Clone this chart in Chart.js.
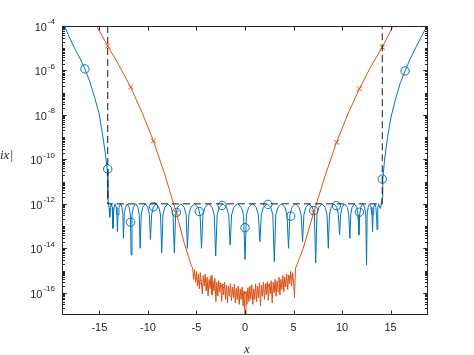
<!DOCTYPE html>
<html><head><meta charset="utf-8">
<script src="https://cdn.jsdelivr.net/npm/chart.js@4"></script>
<style>html,body{margin:0;padding:0;background:#fff;}#wrap{width:474px;height:355px;position:relative;}</style>
</head><body><div id="wrap"><canvas id="c" width="474" height="355"></canvas></div>
<script>
// ---- tick labels ----
const xTicks = [-15, -10, -5, 0, 5, 10, 15];
const xTickLabels = ['-15', '-10', '-5', '0', '5', '10', '15'];
const yTicks = [1e-16, 1e-14, 1e-12, 1e-10, 1e-8, 1e-6, 1e-4];
const yTickExps = ['-16', '-14', '-12', '-10', '-8', '-6', '-4'];
const xLabel = 'x';
const yLabelVisible = 'ix';

// ---- blue series (error curve) ----
const blueX = [-18.6,-18.2,-17.6,-17.0,-16.49,-16.0,-15.5,-15.04,-14.7,-14.4,-14.19,-14.12,-14.05,-13.99,
-13.93,-13.86,-13.77,-13.68,-13.6,-13.55,-13.48,-13.37,-13.26,-13.19,-13.14,-13.08,-12.98,-12.83,-12.68,-12.58,
-12.52,-12.44,-12.32,-12.125,-11.93,-11.81,-11.73,-11.64,-11.5,-11.265,-11.03,-10.89,-10.8,-10.69,-10.535,-10.27,-10.005,-9.85,
-9.74,-9.62,-9.45,-9.16,-8.87,-8.7,-8.58,-8.45,-8.255,-7.93,-7.605,-7.41,-7.28,-7.145,-6.94,-6.605,-6.27,-6.065,
-5.93,-5.785,-5.57,-5.205,-4.84,-4.625,-4.48,-4.33,-4.115,-3.75,-3.385,-3.17,-3.02,-2.87,-2.65,-2.275,-1.9,-1.68,
-1.53,-1.38,-1.15,-0.765,-0.38,-0.15,0,0.15,0.38,0.765,1.15,1.38,1.53,1.68,1.9,2.275,2.65,2.87,
3.02,3.17,3.385,3.75,4.115,4.33,4.48,4.625,4.84,5.205,5.57,5.785,5.93,6.065,6.27,6.605,6.94,7.145,
7.28,7.41,7.605,7.93,8.255,8.45,8.58,8.7,8.87,9.16,9.45,9.62,9.74,9.85,10.005,10.27,10.535,10.69,
10.8,10.89,11.03,11.265,11.5,11.64,11.73,11.81,11.93,12.125,12.32,12.44,12.52,12.58,12.68,12.83,12.98,13.08,
13.14,13.19,13.26,13.37,13.48,13.55,13.6,13.68,13.77,13.86,13.93,13.99,14.05,14.12,
14.19,14.4,14.7,15.04,15.5,16.0,16.49,17.0,17.6,18.2,18.75];
const blueY = [1e-4,4e-5,1.1e-5,3.5e-6,1.17e-6,3.2e-7,6.3e-8,1.2e-8,1.6e-9,2e-10,3.7e-11,1.6e-12,1.05e-12,6e-13,
2.5e-13,7e-13,1e-12,7e-13,7.9e-14,3.2e-13,7e-13,1e-12,7e-13,3.2e-13,5.6e-14,3.2e-13,7e-13,1e-12,7e-13,3.2e-13,
2.8e-14,3.2e-13,7e-13,1e-12,7e-13,3.2e-13,5e-15,3.2e-13,7e-13,1e-12,7e-13,3.2e-13,1e-14,3.2e-13,7e-13,1e-12,7e-13,3.2e-13,
2.5e-14,3.2e-13,7e-13,1e-12,7e-13,3.2e-13,6.3e-15,3.2e-13,7e-13,1e-12,7e-13,3.2e-13,6.3e-15,3.2e-13,7e-13,1e-12,7e-13,3.2e-13,
1e-14,3.2e-13,7e-13,1e-12,7e-13,3.2e-13,1e-14,3.2e-13,7e-13,1e-12,7e-13,3.2e-13,4.5e-15,3.2e-13,7e-13,1e-12,7e-13,3.2e-13,
1.4e-14,3.2e-13,7e-13,1e-12,7e-13,3.2e-13,3.2e-15,3.2e-13,7e-13,1e-12,7e-13,3.2e-13,2e-14,3.2e-13,7e-13,1e-12,7e-13,3.2e-13,
2.5e-15,3.2e-13,7e-13,1e-12,7e-13,3.2e-13,1e-14,3.2e-13,7e-13,1e-12,7e-13,3.2e-13,2e-14,3.2e-13,7e-13,1e-12,7e-13,3.2e-13,
2.2e-15,3.2e-13,7e-13,1e-12,7e-13,3.2e-13,1e-14,3.2e-13,7e-13,1e-12,7e-13,3.2e-13,4e-14,3.2e-13,7e-13,1e-12,7e-13,3.2e-13,
2.8e-14,3.2e-13,7e-13,1e-12,7e-13,3.2e-13,4e-14,3.2e-13,7e-13,1e-12,7e-13,3.2e-13,1.8e-15,3.2e-13,7e-13,1e-12,7e-13,3.2e-13,
5.6e-14,3.2e-13,7e-13,1e-12,7e-13,3.2e-13,7e-14,7e-13,1e-12,7e-13,6.3e-13,8e-13,1.05e-12,2e-12,
1.3e-11,1.2e-10,1.1e-9,8e-9,5e-8,2.8e-7,9.5e-7,3.2e-6,1.1e-5,3.5e-5,1e-4];

// blue circle markers
const blueMarkX = [-16.49,-14.14,-11.78,-9.42,-7.07,-4.71,-2.36,0,2.36,4.71,7.07,9.42,11.78,14.14,16.49];
const blueMarkY = [1.17e-6,3.7e-11,1.48e-13,7.4e-13,4.1e-13,4.5e-13,8.5e-13,8.5e-14,9.5e-13,2.8e-13,5e-13,8.3e-13,4.2e-13,1.3e-11,9.5e-7];

// ---- orange series ----
const orangeX = [-15.28,-14.14,-12.96,-11.78,-10.6,-9.43,-8.25,-7.07,-6.3,-5.5,
-5.4,-5.3,-5.2,-5.1,-5.0,-4.9,-4.8,-4.7,-4.6,-4.5,-4.4,-4.3,-4.2,-4.1,-4.0,-3.9,-3.8,-3.7,-3.6,-3.5,
-3.4,-3.3,-3.2,-3.1,-3.0,-2.9,-2.8,-2.7,-2.6,-2.5,-2.4,-2.3,-2.2,-2.1,-2.0,-1.9,-1.8,-1.7,-1.6,-1.5,
-1.4,-1.3,-1.2,-1.1,-1.0,-0.9,-0.8,-0.7,-0.6,-0.5,-0.4,-0.3,-0.2,-0.1,0.0,0.1,0.2,0.3,0.4,0.5,
0.6,0.7,0.8,0.9,1.0,1.1,1.2,1.3,1.4,1.5,1.6,1.7,1.8,1.9,2.0,2.1,2.2,2.3,2.4,2.5,
2.6,2.7,2.8,2.9,3.0,3.1,3.2,3.3,3.4,3.5,3.6,3.7,3.8,3.9,4.0,4.1,4.2,4.3,4.4,4.5,
4.6,4.7,4.8,4.9,5.0,5.1,5.2,
5.3,6.0,7.07,8.25,9.43,10.6,11.78,12.96,14.14,15.25];
const orangeY = [1e-4,1.26e-5,1.66e-6,1.8e-7,1.26e-8,6.8e-10,2e-11,3.9e-13,2e-14,1.5e-15,
1.4e-15,4e-16,1.1e-15,3e-16,9e-16,2e-16,7e-16,1.5e-16,8e-16,3e-16,9e-17,6e-16,2e-16,7e-16,1.2e-16,5e-16,7e-17,4e-16,1.5e-16,6e-16,
8e-17,3.5e-16,1.2e-16,4.5e-16,4e-17,3e-16,7e-17,3.5e-16,1.1e-16,2.8e-16,4e-17,2.5e-16,8e-17,3e-16,5e-17,2.2e-16,3.5e-17,2e-16,7e-17,2.6e-16,
4.5e-17,1.8e-16,6e-17,2.4e-16,3.5e-17,1.6e-16,5e-17,2e-16,3e-17,1.5e-16,5e-17,1.8e-16,2.5e-17,1.2e-16,8e-18,1.1e-16,3e-17,1.7e-16,4e-17,2e-16,
5e-17,2.3e-16,3e-17,1.5e-16,5e-17,2.5e-16,4e-17,2e-16,6e-17,2.8e-16,2.5e-17,2.2e-16,7e-17,3e-16,5e-17,2.5e-16,8e-17,3.2e-16,4.5e-17,2.6e-16,
9e-17,3.5e-16,3.5e-17,3e-16,1e-16,4e-16,7e-17,3.5e-16,1.1e-16,5e-16,8e-17,4e-16,1.4e-16,6e-16,1.1e-16,5e-16,1.8e-16,7e-16,1.4e-16,6e-16,
2.5e-16,9e-16,2e-16,8e-16,3e-16,6e-17,1.3e-15,
1.6e-15,1e-14,4e-13,1.8e-11,5.9e-10,1.1e-8,1.5e-7,1.5e-6,1.1e-5,1e-4];

// orange cross markers
const orangeMarkX = [-14.14,-11.78,-9.43,-7.07,-4.71,-2.36,0,2.36,4.71,7.07,9.43,11.78,14.14];
const orangeMarkY = [1.26e-5,1.8e-7,6.8e-10,3.9e-13,3e-16,2e-16,1e-16,2e-16,5e-16,4e-13,5.9e-10,1.5e-7,1.1e-5];

// ---- dashed tolerance box ----
const boundX = [-14.14, -14.14, 14.14, 14.14];
const boundY = [1e-4, 1e-12, 1e-12, 1e-4];

const BLUE = '#0072BD', ORANGE = '#D95319', AXIS = '#262626';
const pts = (xs, ys) => xs.map((v, i) => ({x: v, y: ys[i]}));

const axesPlugin = {
  id: 'matlabAxes',
  afterDraw(chart) {
    const {ctx, chartArea: a, scales: {x, y}} = chart;
    ctx.save();
    ctx.strokeStyle = AXIS; ctx.lineWidth = 1;
    const L = Math.round(a.left) + 0.5, R = Math.round(a.right) - 0.5;
    const T = Math.round(a.top) + 0.5, B = Math.round(a.bottom) - 0.5;
    ctx.strokeRect(L, T, R - L, B - T);
    ctx.beginPath();
    xTicks.forEach(v => {
      const px = Math.round(x.getPixelForValue(v)) + 0.5;
      ctx.moveTo(px, B); ctx.lineTo(px, B - 4);
      ctx.moveTo(px, T); ctx.lineTo(px, T + 4);
    });
    for (let k = -17; k <= -5; k++) {
      for (let m = 1; m <= 9; m++) {
        const v = m * Math.pow(10, k);
        const major = (m === 1 && k % 2 === 0);
        const len = major ? 4 : 2.5;
        const py = Math.round(y.getPixelForValue(v)) + 0.5;
        if (py < T || py > B) continue;
        ctx.moveTo(L, py); ctx.lineTo(L + len, py);
        ctx.moveTo(R, py); ctx.lineTo(R - len, py);
      }
    }
    yTicks.forEach(v => {
      const py = Math.round(y.getPixelForValue(v)) + 0.5;
      ctx.moveTo(L, py); ctx.lineTo(L + 4, py);
      ctx.moveTo(R, py); ctx.lineTo(R - 4, py);
    });
    ctx.stroke();

    ctx.fillStyle = AXIS;
    const base = '11px "Liberation Sans", Arial, Helvetica, sans-serif';
    const expf = '8px "Liberation Sans", Arial, Helvetica, sans-serif';
    ctx.font = base; ctx.textAlign = 'center'; ctx.textBaseline = 'middle';
    xTicks.forEach((v, i) => ctx.fillText(xTickLabels[i], x.getPixelForValue(v), a.bottom + 13));
    ctx.textAlign = 'left';
    yTicks.forEach((v, i) => {
      const py = y.getPixelForValue(v);
      ctx.font = expf; const ew = ctx.measureText(yTickExps[i]).width;
      ctx.font = base; const bw = ctx.measureText('10').width;
      const right = a.left - 7;
      ctx.fillText('10', right - ew - bw - 1, py + 2);
      ctx.font = expf; ctx.fillText(yTickExps[i], right - ew, py - 4);
    });
    // axis labels
    ctx.font = 'italic 13px "Liberation Serif", "Times New Roman", serif';
    ctx.textAlign = 'center';
    ctx.fillText(xLabel, (a.left + a.right) / 2 + 2, 350);
    ctx.textAlign = 'left';
    ctx.fillText(yLabelVisible, 0, 156);
    const w = ctx.measureText(yLabelVisible).width;
    ctx.font = '13px "Liberation Serif", "Times New Roman", serif';
    ctx.fillText('|', w + 1, 156);
    ctx.restore();
  }
};

new Chart(document.getElementById('c').getContext('2d'), {
  type: 'scatter',
  data: {
    datasets: [
      {data: pts(boundX, boundY), showLine: true, borderColor: '#1a1a1a', borderWidth: 1, borderDash: [7, 4], pointRadius: 0, order: 0},
      {data: pts(orangeMarkX, orangeMarkY), showLine: false, pointStyle: 'crossRot', pointRadius: 3.5, borderColor: ORANGE, backgroundColor: ORANGE, borderWidth: 1, order: 1},
      {data: pts(orangeX, orangeY), showLine: true, borderColor: ORANGE, borderWidth: 1, pointRadius: 0, order: 2},
      {data: pts(blueMarkX, blueMarkY), showLine: false, pointStyle: 'circle', pointRadius: 4.2, borderColor: BLUE, backgroundColor: 'rgba(0,0,0,0)', borderWidth: 1, order: 3},
      {data: pts(blueX, blueY), showLine: true, borderColor: BLUE, borderWidth: 1, pointRadius: 0, order: 4}
    ]
  },
  options: {
    responsive: false, animation: false, events: [],
    layout: {padding: {left: 62, top: 26, right: 46, bottom: 40}},
    plugins: {legend: {display: false}, tooltip: {enabled: false}},
    scales: {
      x: {type: 'linear', min: -18.85, max: 18.85, display: false},
      y: {type: 'logarithmic', min: 1e-17, max: 1e-4, display: false}
    }
  },
  plugins: [axesPlugin]
});
</script></body></html>
